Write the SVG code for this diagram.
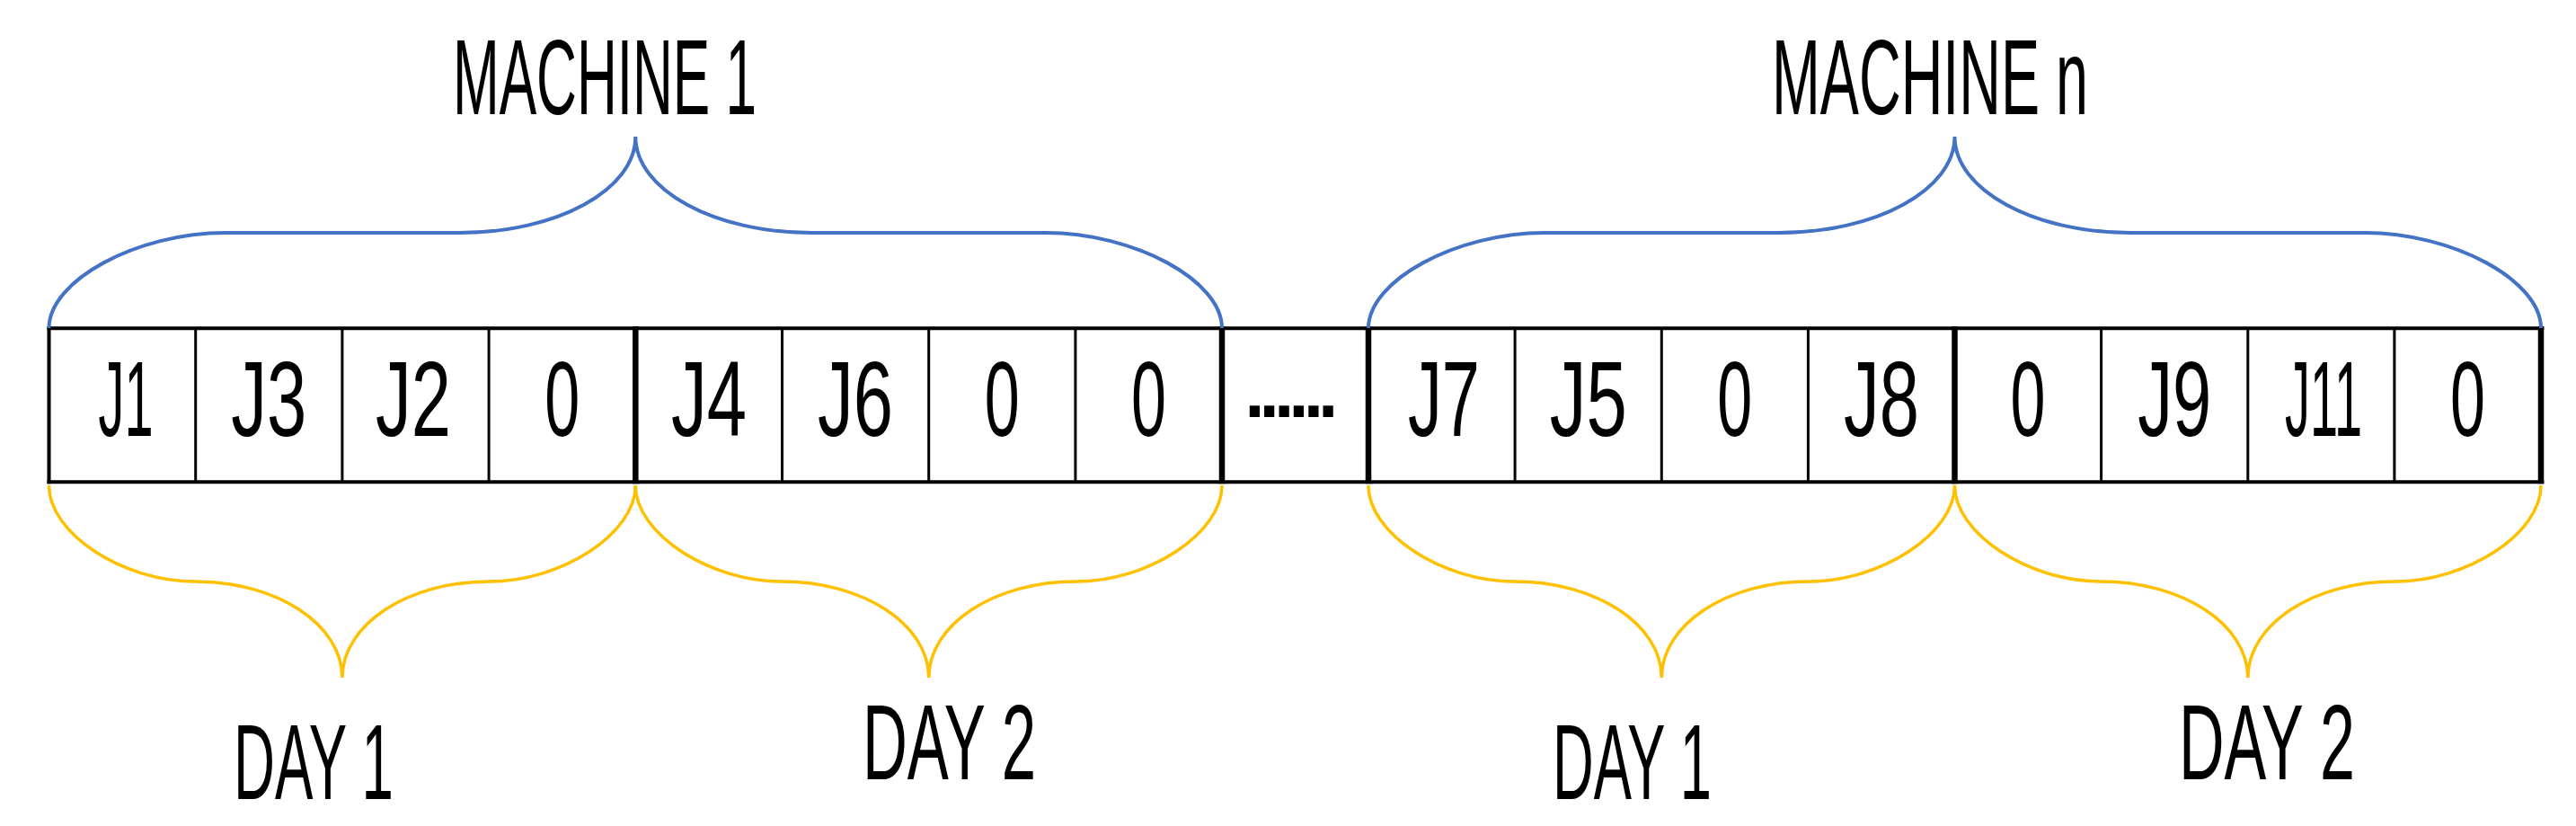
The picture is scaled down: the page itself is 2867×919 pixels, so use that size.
<svg xmlns="http://www.w3.org/2000/svg" width="2867" height="919" viewBox="0 0 2867 919">
  <style>
    .lbl { font-family: "Liberation Sans", Arial, sans-serif; font-size: 118px; fill: #000; }
    .cell { text-anchor: middle; }
    .grid { stroke: #000; fill: none; }
    .thin { stroke-width: 3; }
    .thick { stroke-width: 6.5; }
    .hline { stroke-width: 4; }
    .blue { stroke: #4472C4; stroke-width: 4; fill: none; }
    .orange { stroke: #FFC000; stroke-width: 3.5; fill: none; }
  </style>
  <rect x="0" y="0" width="2867" height="919" fill="#fff"/>

  <g id="titles">
    <g id="machine-1"><text class="lbl" x="504" y="127" textLength="338" lengthAdjust="spacingAndGlyphs">MACHINE 1</text></g>
    <g id="machine-n"><text class="lbl" x="1972" y="127" textLength="352" lengthAdjust="spacingAndGlyphs">MACHINE n</text></g>
  </g>

  <g id="cells">
    <g id="c1"><text class="lbl cell" x="140" y="485" textLength="61" lengthAdjust="spacingAndGlyphs">J1</text></g>
    <g id="c2"><text class="lbl cell" x="299.3" y="485" textLength="84" lengthAdjust="spacingAndGlyphs">J3</text></g>
    <g id="c3"><text class="lbl cell" x="460" y="485" textLength="84" lengthAdjust="spacingAndGlyphs">J2</text></g>
    <g id="c4"><text class="lbl cell" x="625.7" y="485" textLength="39" lengthAdjust="spacingAndGlyphs">0</text></g>
    <g id="c5"><text class="lbl cell" x="788.9" y="485" textLength="84" lengthAdjust="spacingAndGlyphs">J4</text></g>
    <g id="c6"><text class="lbl cell" x="952.1" y="485" textLength="84" lengthAdjust="spacingAndGlyphs">J6</text></g>
    <g id="c7"><text class="lbl cell" x="1115.3" y="485" textLength="39" lengthAdjust="spacingAndGlyphs">0</text></g>
    <g id="c8"><text class="lbl cell" x="1278.5" y="485" textLength="39" lengthAdjust="spacingAndGlyphs">0</text></g>
    <g id="gap"><text class="lbl" x="1380" y="463.5" font-size="85" textLength="114.6" lengthAdjust="spacing">......</text></g>
    <g id="c9"><text class="lbl cell" x="1607" y="485" textLength="80" lengthAdjust="spacingAndGlyphs">J7</text></g>
    <g id="c10"><text class="lbl cell" x="1767.7" y="485" textLength="86" lengthAdjust="spacingAndGlyphs">J5</text></g>
    <g id="c11"><text class="lbl cell" x="1930.8" y="485" textLength="39" lengthAdjust="spacingAndGlyphs">0</text></g>
    <g id="c12"><text class="lbl cell" x="2093.9" y="485" textLength="84" lengthAdjust="spacingAndGlyphs">J8</text></g>
    <g id="c13"><text class="lbl cell" x="2257.1" y="485" textLength="39" lengthAdjust="spacingAndGlyphs">0</text></g>
    <g id="c14"><text class="lbl cell" x="2420.2" y="485" textLength="82" lengthAdjust="spacingAndGlyphs">J9</text></g>
    <g id="c15"><text class="lbl cell" x="2586" y="485" textLength="86" lengthAdjust="spacingAndGlyphs">J11</text></g>
    <g id="c16"><text class="lbl cell" x="2746.5" y="485" textLength="39" lengthAdjust="spacingAndGlyphs">0</text></g>
  </g>

  <g id="grid" class="grid">
    <line class="hline" x1="52.5" y1="365.3" x2="2831.3" y2="365.3"/>
    <line class="hline" x1="52.5" y1="536.3" x2="2831.3" y2="536.3"/>
    <line class="hline" x1="54.5" y1="363.3" x2="54.5" y2="538.3"/>
    <line class="thin" x1="217.7" y1="365" x2="217.7" y2="536"/>
    <line class="thin" x1="380.9" y1="365" x2="380.9" y2="536"/>
    <line class="thin" x1="544.1" y1="365" x2="544.1" y2="536"/>
    <line class="thick" x1="707.3" y1="363.3" x2="707.3" y2="538.3"/>
    <line class="thin" x1="870.5" y1="365" x2="870.5" y2="536"/>
    <line class="thin" x1="1033.7" y1="365" x2="1033.7" y2="536"/>
    <line class="thin" x1="1196.9" y1="365" x2="1196.9" y2="536"/>
    <line class="thick" x1="1360" y1="363.3" x2="1360" y2="538.3"/>
    <line class="thick" x1="1523" y1="363.3" x2="1523" y2="538.3"/>
    <line class="thin" x1="1686.1" y1="365" x2="1686.1" y2="536"/>
    <line class="thin" x1="1849.3" y1="365" x2="1849.3" y2="536"/>
    <line class="thin" x1="2012.4" y1="365" x2="2012.4" y2="536"/>
    <line class="thick" x1="2175.5" y1="363.3" x2="2175.5" y2="538.3"/>
    <line class="thin" x1="2338.6" y1="365" x2="2338.6" y2="536"/>
    <line class="thin" x1="2501.8" y1="365" x2="2501.8" y2="536"/>
    <line class="thin" x1="2664.9" y1="365" x2="2664.9" y2="536"/>
    <line class="thick" x1="2828" y1="363.3" x2="2828" y2="538.3"/>
  </g>

  <g id="connectors">
    <path class="blue" d="M54.5,365 C54.5,312 152.5,259 250.5,259 L511.3,259 C619.6,259 707.3,211.1 707.3,152 C707.3,211.1 795,259 903.3,259 L1164,259 C1262,259 1360,312 1360,365"/>
    <path class="blue" d="M1523,365 C1523,312 1621,259 1719,259 L1979.5,259 C2087.8,259 2175.5,211.1 2175.5,152 C2175.5,211.1 2263.2,259 2371.5,259 L2632,259 C2730,259 2828,312 2828,365"/>
    <path class="orange" d="M54.5,540 C54.5,593.5 136.1,647 217.7,647 C307.8,647 380.9,694.9 380.9,754 C380.9,694.9 454,647 544.1,647 C625.7,647 707.3,593.5 707.3,540"/>
    <path class="orange" d="M707.3,540 C707.3,593.5 788.9,647 870.5,647 C960.6,647 1033.7,694.9 1033.7,754 C1033.7,694.9 1106.8,647 1196.9,647 C1278.5,647 1360,593.5 1360,540"/>
    <path class="orange" d="M1523,540 C1523,593.5 1604.6,647 1686.1,647 C1776.2,647 1849.3,694.9 1849.3,754 C1849.3,694.9 1922.3,647 2012.4,647 C2094,647 2175.5,593.5 2175.5,540"/>
    <path class="orange" d="M2175.5,540 C2175.5,593.5 2257.1,647 2338.6,647 C2428.7,647 2501.8,694.9 2501.8,754 C2501.8,694.9 2574.8,647 2664.9,647 C2746.5,647 2828,593.5 2828,540"/>
  </g>

  <g id="days">
    <g id="day-1a"><text class="lbl" x="260" y="889" textLength="178" lengthAdjust="spacingAndGlyphs">DAY 1</text></g>
    <g id="day-2a"><text class="lbl" x="960" y="867" textLength="193" lengthAdjust="spacingAndGlyphs">DAY 2</text></g>
    <g id="day-1b"><text class="lbl" x="1728" y="889" textLength="177" lengthAdjust="spacingAndGlyphs">DAY 1</text></g>
    <g id="day-2b"><text class="lbl" x="2425" y="867" textLength="196" lengthAdjust="spacingAndGlyphs">DAY 2</text></g>
  </g>
</svg>
